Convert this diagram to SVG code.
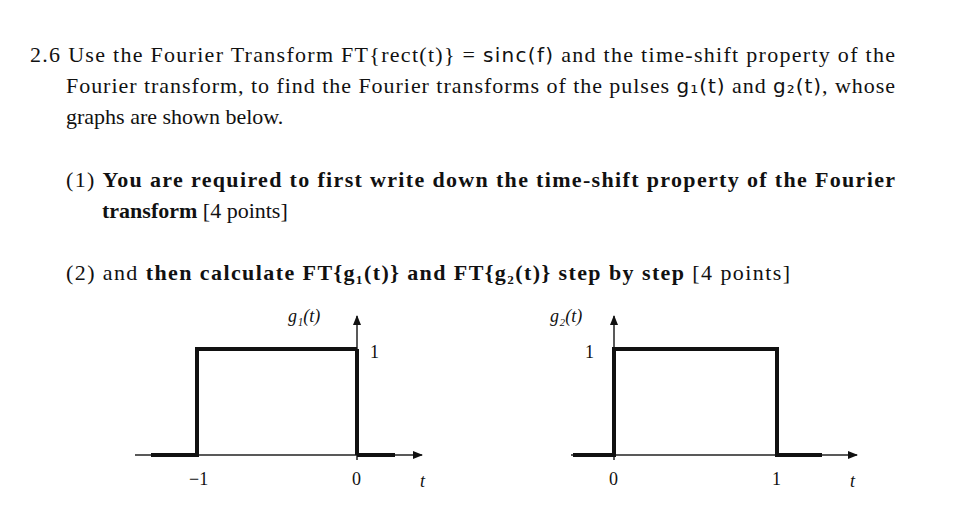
<svg xmlns="http://www.w3.org/2000/svg" width="967" height="523" viewBox="0 0 967 523">
<style>
text{font-family:"Liberation Serif",serif;font-size:22px;fill:#111}
.b{font-weight:bold}
.s{font-family:"DejaVu Sans",sans-serif;font-size:20px}
.l{font-size:18px}
.i{font-style:italic;font-size:18px}
.thick{stroke:#111;stroke-width:4;fill:none}
.thin{stroke:#222;stroke-width:1.5;fill:none}
</style>
<defs><marker id="a" markerWidth="10" markerHeight="8" refX="9" refY="4" orient="auto" markerUnits="userSpaceOnUse"><path d="M0,0L10,4L0,8z" fill="#111"/></marker></defs>
<rect width="967" height="523" fill="#fff"/>
<g id="text">
<text x="30" y="62" textLength="865" lengthAdjust="spacing">2.6 Use the Fourier Transform  FT{rect(t)} = <tspan class="s">sinc(f)</tspan>  and the time-shift property of the</text>
<text x="66" y="93" textLength="829" lengthAdjust="spacing">Fourier transform, to find the Fourier transforms of the pulses  <tspan class="s">g₁(t)</tspan>  and  <tspan class="s">g₂(t)</tspan>, whose</text>
<text x="66" y="124">graphs are shown below.</text>
<text x="66" y="187" textLength="829" lengthAdjust="spacing">(1) <tspan class="b">You are required to first write down the time-shift property of the Fourier</tspan></text>
<text x="102" y="218"><tspan class="b">transform</tspan> [4 points]</text>
<text x="66" y="280" textLength="724" lengthAdjust="spacing">(2) and <tspan class="b">then calculate  FT{g₁(t)}  and  FT{g₂(t)}  step by step</tspan> [4 points]</text>
</g>
<g id="graph1">
<line class="thin" x1="135" y1="455" x2="422" y2="455" marker-end="url(#a)"/>
<line class="thin" x1="357" y1="460" x2="357" y2="316" marker-end="url(#a)"/>
<polyline class="thick" points="151,455 197,455 197,349 357,349"/>
<line class="thick" x1="357" y1="349" x2="357" y2="455"/>
<line class="thick" x1="357" y1="455" x2="395" y2="455"/>
<text class="i" x="288" y="322">g₁(t)</text>
<text class="l" x="370" y="358">1</text>
<text class="l" x="189" y="485">−1</text>
<text class="l" x="352" y="485">0</text>
<text class="i" x="420" y="487">t</text>
</g>
<g id="graph2">
<line class="thin" x1="571" y1="455" x2="857" y2="455" marker-end="url(#a)"/>
<line class="thin" x1="614" y1="460" x2="614" y2="316" marker-end="url(#a)"/>
<polyline class="thick" points="573,455 614,455 614,349 777,349 777,455 822,455"/>
<text class="i" x="550" y="322">g₂(t)</text>
<text class="l" x="585" y="358">1</text>
<text class="l" x="609" y="485">0</text>
<text class="l" x="772" y="485">1</text>
<text class="i" x="850" y="487">t</text>
</g>
</svg>
